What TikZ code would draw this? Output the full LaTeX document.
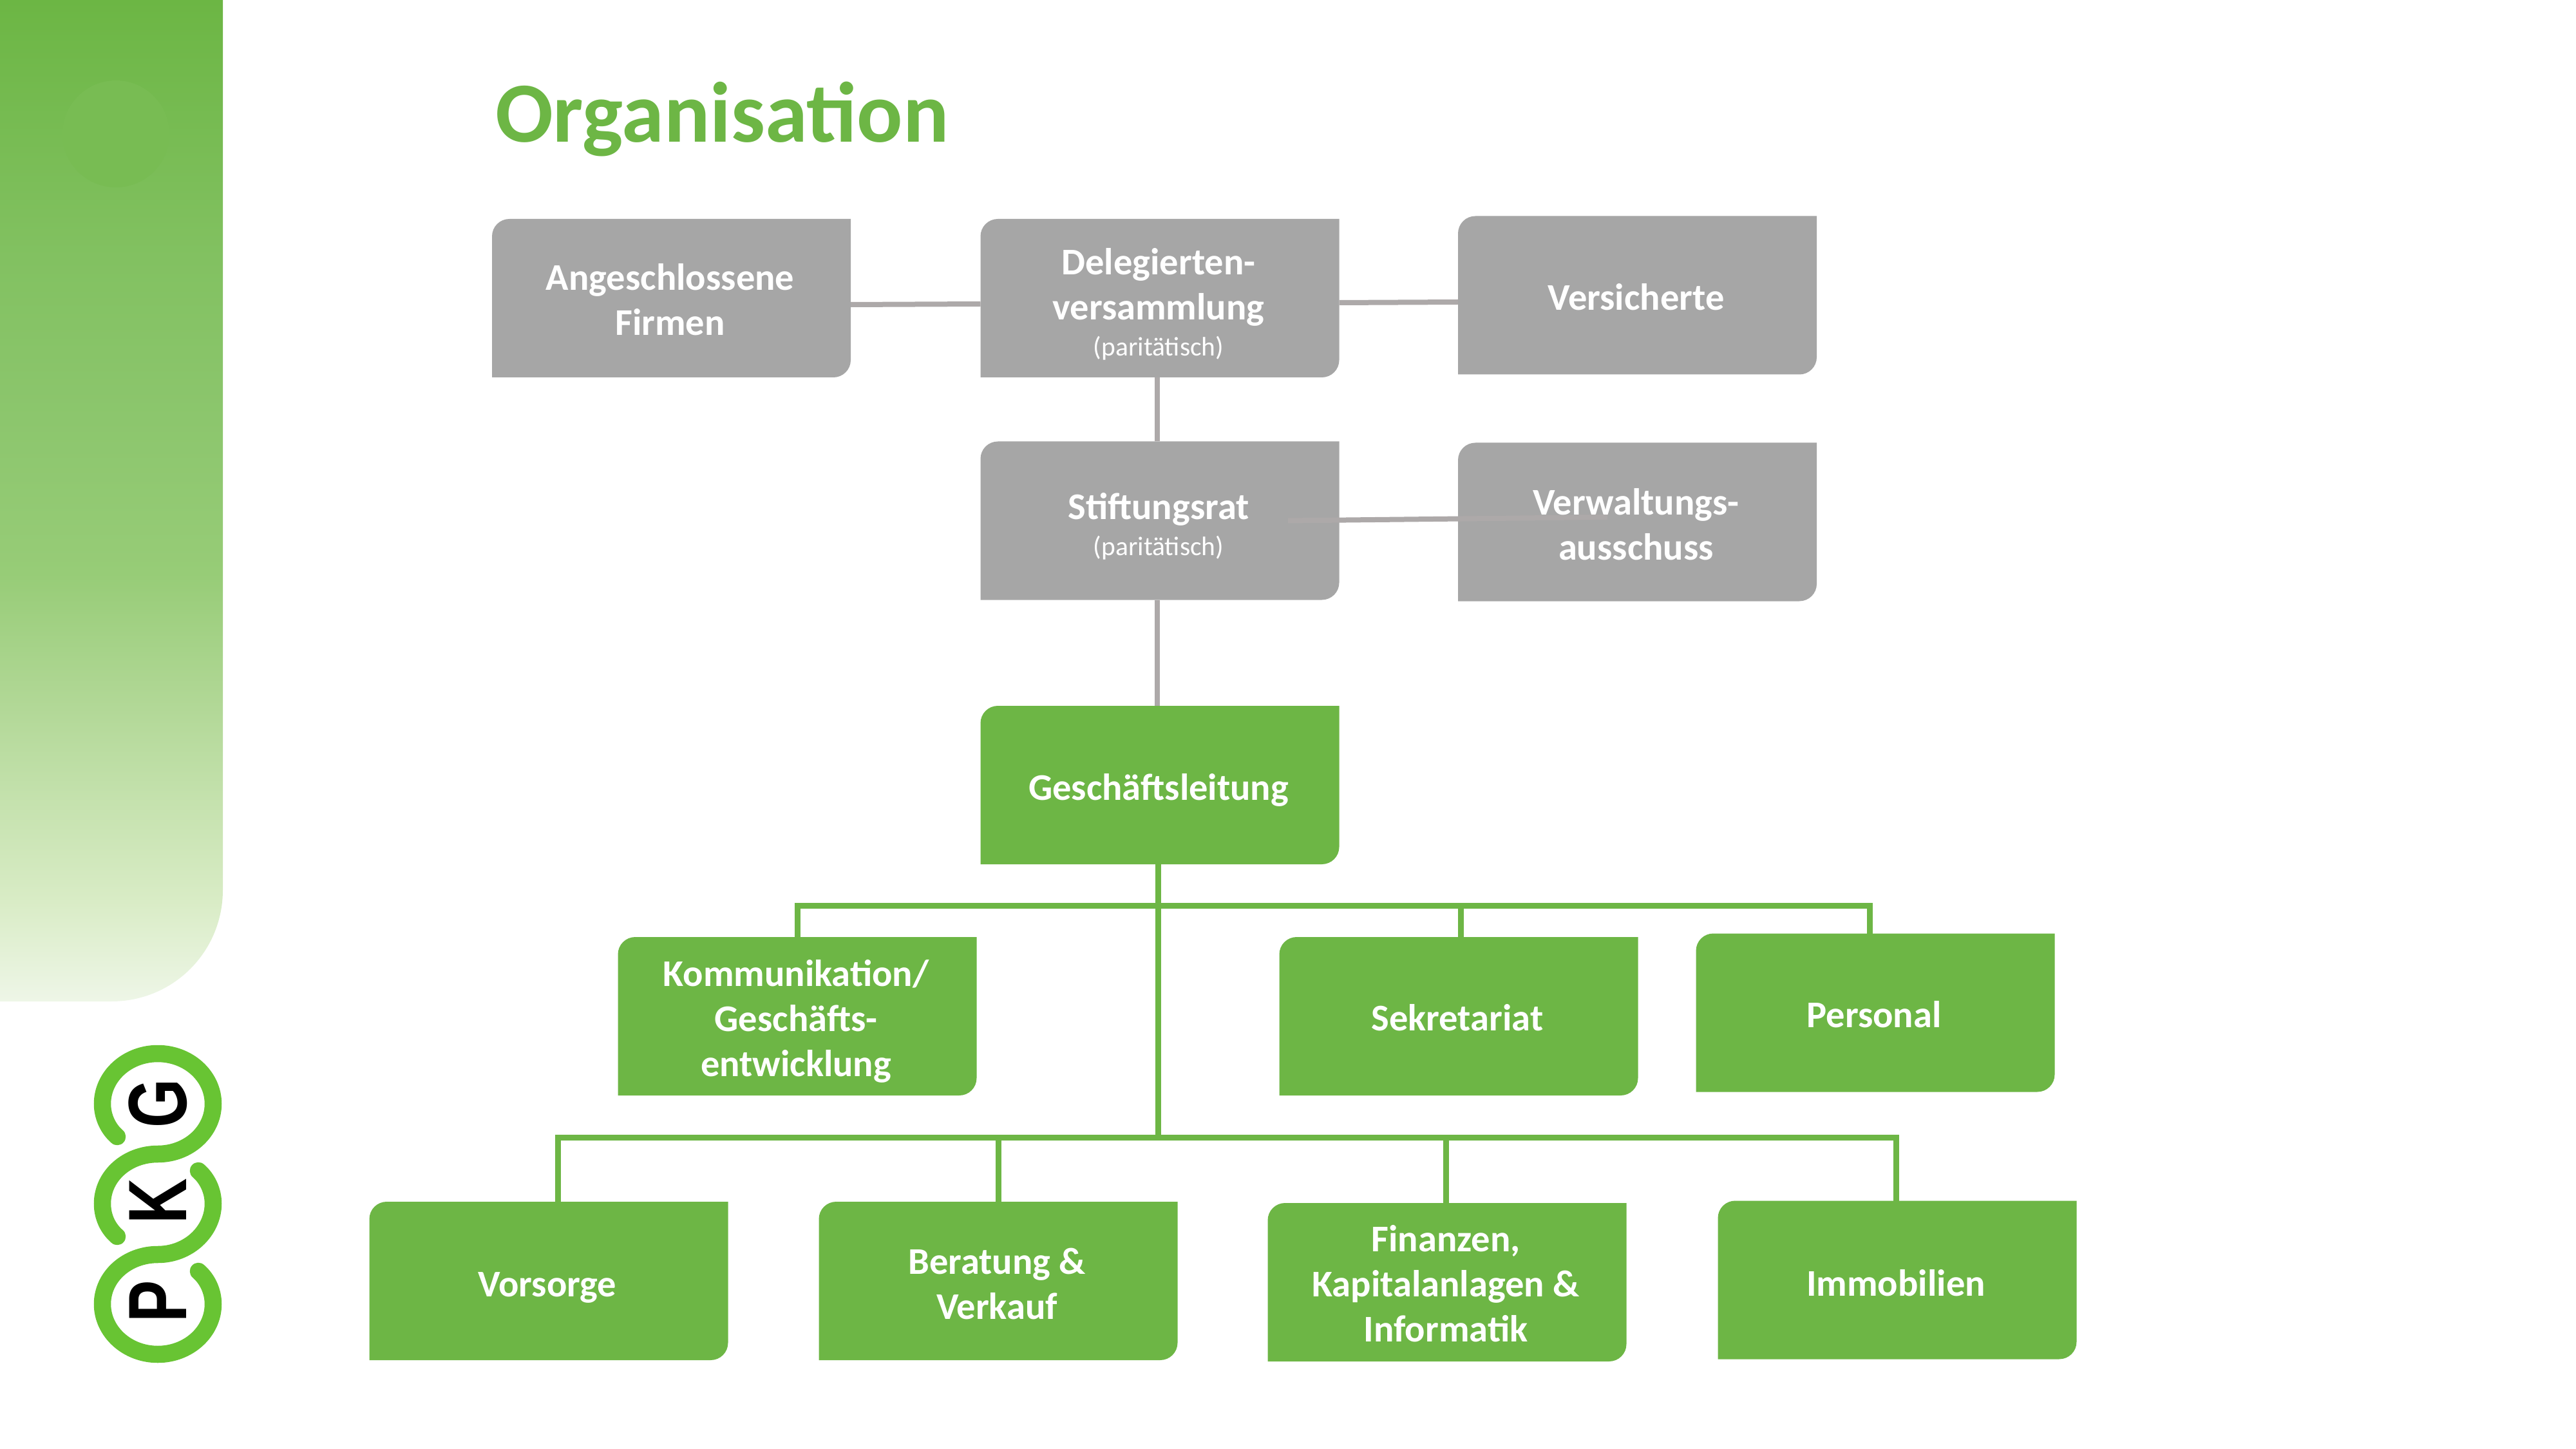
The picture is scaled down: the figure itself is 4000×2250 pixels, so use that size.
\documentclass[tikz,border=0pt]{standalone}
\usepackage{fontspec}
\setmainfont{Carlito}
\newfontfamily\logofont{Liberation Sans}[BoldFont={* Bold}]
\usetikzlibrary{calc}
\definecolor{pkgreen}{HTML}{6DB645}
\definecolor{pkgrey}{HTML}{A6A6A6}
\definecolor{pkline}{HTML}{ADA9A9}
\definecolor{pkdisc}{HTML}{78BC53}
\definecolor{pklogo}{HTML}{68C433}
\definecolor{fadeA}{HTML}{6CB644}
\definecolor{fadeB}{HTML}{82C161}
\definecolor{fadeC}{HTML}{8CC66D}
\definecolor{fadeD}{HTML}{97CC77}
\definecolor{fadeE}{HTML}{B2D897}
\definecolor{fadeF}{HTML}{D9ECC6}
\definecolor{fadeG}{HTML}{EEF6E7}
\pgfdeclareverticalshading{sidefade}{100bp}{
  color(0bp)=(fadeG); color(25bp)=(fadeG); color(29.98bp)=(fadeF); color(39.63bp)=(fadeE);
  color(46.35bp)=(fadeD); color(54.1bp)=(fadeC); color(62.14bp)=(fadeB); color(75bp)=(fadeA); color(100bp)=(fadeA)}
\newdimen\boxL \newdimen\boxR \newdimen\boxB \newdimen\boxT
\gdef\boxdy{0pt}
\makeatletter
\pgfdeclareshape{diagbox}{
  \inheritsavedanchors[from=rectangle]
  \inheritanchorborder[from=rectangle]
  \inheritanchor[from=rectangle]{center}
  \inheritanchor[from=rectangle]{north}
  \inheritanchor[from=rectangle]{south}
  \inheritanchor[from=rectangle]{east}
  \inheritanchor[from=rectangle]{west}
  \inheritanchor[from=rectangle]{north west}
  \inheritanchor[from=rectangle]{north east}
  \inheritanchor[from=rectangle]{south west}
  \inheritanchor[from=rectangle]{south east}
  \anchor{text}{\pgfqpoint{-0.4pt}{\boxdy}}
  \backgroundpath{
    \southwest \boxL=\pgf@x \boxB=\pgf@y
    \northeast \boxR=\pgf@x \boxT=\pgf@y
    \pgfpathmoveto{\pgfqpoint{\boxL}{\boxB}}
    \pgfpathlineto{\pgfqpoint{\boxL}{\dimexpr\boxT-5.4pt\relax}}
    \pgfpathcurveto{\pgfqpoint{\boxL}{\dimexpr\boxT-2.4pt\relax}}
                   {\pgfqpoint{\dimexpr\boxL+2.4pt\relax}{\boxT}}
                   {\pgfqpoint{\dimexpr\boxL+5.4pt\relax}{\boxT}}
    \pgfpathlineto{\pgfqpoint{\boxR}{\boxT}}
    \pgfpathlineto{\pgfqpoint{\boxR}{\dimexpr\boxB+5.4pt\relax}}
    \pgfpathcurveto{\pgfqpoint{\boxR}{\dimexpr\boxB+2.4pt\relax}}
                   {\pgfqpoint{\dimexpr\boxR-2.4pt\relax}{\boxB}}
                   {\pgfqpoint{\dimexpr\boxR-5.4pt\relax}{\boxB}}
    \pgfpathclose
  }
}
\makeatother
\tikzset{
  txtdy/.code={\gdef\boxdy{#1}},
  orgbox/.style={shape=diagbox,minimum width=111pt,minimum height=48.8pt,inner sep=0pt,
    text=white,align=center,font=\fontsize{11.7}{14}\selectfont\bfseries},
  greybox/.style={orgbox,fill=pkgrey,txtdy=#1},
  greenbox/.style={orgbox,fill=pkgreen,txtdy=#1},
  greyline/.style={draw=pkline,line width=1.6pt},
  greenline/.style={draw=pkgreen,line width=1.8pt},
  ribbon/.style={draw=pklogo,line width=5.3pt,line cap=round},
  logoletter/.style={rotate=90,inner sep=0pt,text=black,font=\logofont\bfseries\fontsize{25.7}{26}\selectfont}
}
\newcommand{\smalltxt}[1]{{\fontsize{8.3}{9}\selectfont\mdseries #1}}
\begin{document}
\begin{tikzpicture}[x=0.2pt,y=-0.2pt]
\useasboundingbox (0,0) rectangle (4000,2250);
% sidebar
\shade[shading=sidefade]
  (0,0) -- (346,0) -- (346,1382) .. controls (346,1478) and (269,1555) .. (173,1555) -- (0,1555) -- cycle;
\fill[pkdisc] (180,208) circle[radius=83];
% logo
\draw[ribbon] (182,1765) .. controls (168,1753) and (159,1734) .. (159,1714)
  .. controls (159,1671) and (197.5,1636) .. (245,1636)
  .. controls (292.5,1636) and (331,1671) .. (331,1714)
  .. controls (331,1757) and (292.5,1792) .. (245,1792)
  .. controls (197.5,1792) and (159,1826) .. (159,1869)
  .. controls (159,1890) and (168,1908) .. (182,1920);
\draw[ribbon] (308,1818) .. controls (322,1830) and (331,1849) .. (331,1869)
  .. controls (331,1912) and (292.5,1948) .. (245,1948)
  .. controls (197.5,1948) and (159,1982) .. (159,2025)
  .. controls (159,2068) and (197.5,2103) .. (245,2103)
  .. controls (292.5,2103) and (331,2068) .. (331,2025)
  .. controls (331,2005) and (322,1986) .. (308,1974);
\node[logoletter] (lg) at (245,1714) {\scalebox{.76}[1]{G}};
\node[logoletter] (lk) at (245,1865) {\scalebox{.76}[1]{K}};
\node[logoletter] (lp) at (245,2021) {\scalebox{.76}[1]{P}};
% title
\node[anchor=base west,inner sep=0pt,text=pkgreen,font=\fontsize{26.6}{30}\selectfont\bfseries] (title) at (768,221) {Organisation};
% boxes
\node[greybox=-0.5pt] (ang) at (1042.5,463) {Angeschlossene\\Firmen};
\node[greybox=-1.8pt] (del) at (1801,463) {Delegierten-\\versammlung\\[-2.8pt]\smalltxt{(paritätisch)}};
\node[greybox=-0.5pt] (vers) at (2542.5,458.5) {Versicherte};
\node[greybox=-1.8pt] (stift) at (1801,808.5) {Stiftungsrat\\[-2.8pt]\smalltxt{(paritätisch)}};
\node[greybox=-0.8pt] (verw) at (2542.5,810.5) {Verwaltungs-\\ausschuss};
\node[greenbox=-1.5pt] (gl) at (1801,1219) {Geschäftsleitung};
\node[greenbox=-1.5pt] (komm) at (1238,1578) {Kommunikation/\\Geschäfts-\\entwicklung};
\node[greenbox=-0.5pt] (sekr) at (2265,1578) {Sekretariat};
\node[greenbox=-0.5pt] (pers) at (2912,1572.5) {Personal};
\node[greenbox=-2pt] (vor) at (852,1989) {Vorsorge};
\node[greenbox=-1pt] (ber) at (1550,1989) {Beratung \&\\Verkauf};
\node[greenbox=-0.5pt] (fin) at (2247,1991) {Finanzen,\\Kapitalanlagen \&\\Informatik};
\node[greenbox=-1pt] (imm) at (2946,1987.5) {Immobilien};
% grey connectors
\draw[greyline] ($(ang.east)+(0,10)$) -- ($(del.west)+(0,9)$);
\draw[greyline] ($(del.east)+(0,7)$) -- ($(vers.west)+(0,10.5)$);
\draw[greyline] ($(del.south)+(-4,0)$) -- ($(stift.north)+(-4,0)$);
\draw[greyline] ($(stift.south)+(-4,0)$) -- ($(gl.north)+(-4,0)$);
\draw[greyline] ($(stift.center)+(199,0)$) -- ($(verw.center)+(-46.5,-7.5)$);
% green connectors
\coordinate (bus1) at (1798,1406);
\coordinate (bus2) at (1798,1766);
\draw[greenline] ($(gl.south)+(-3,0)$) -- (bus2);
\draw[greenline] (komm.north) |- (bus1);
\draw[greenline] ($(sekr.north)+(3,0)$) |- (bus1);
\draw[greenline] ($(pers.north)+(-9,0)$) |- (bus1);
\draw[greenline] ($(vor.north)+(14,0)$) |- (bus2);
\draw[greenline] (ber.north) |- (bus2);
\draw[greenline] ($(fin.north)+(-2,0)$) |- (bus2);
\draw[greenline] ($(imm.north)+(-2,0)$) |- (bus2);
\end{tikzpicture}
\end{document}
